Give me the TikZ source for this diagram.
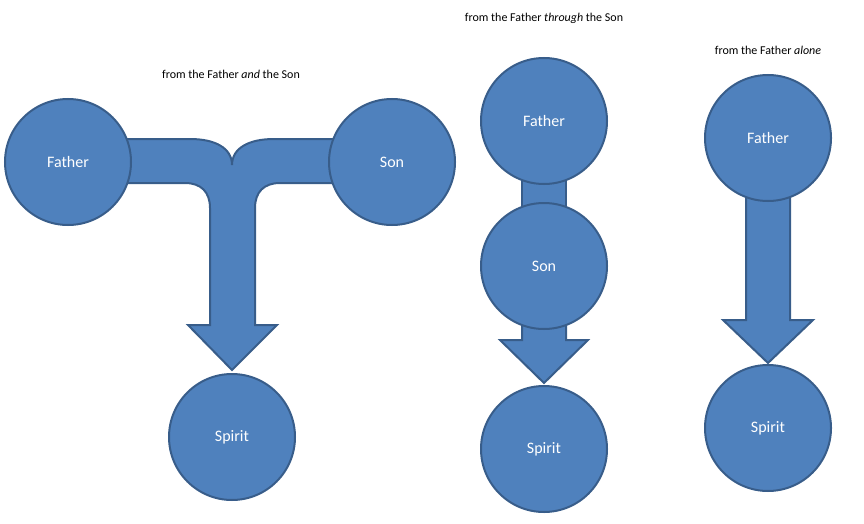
\documentclass[tikz,border=0pt]{standalone}
\usepackage{fontspec}
\setmainfont{Carlito}
\definecolor{fillb}{HTML}{4F81BD}
\definecolor{edgeb}{HTML}{385D8A}
\begin{document}
\begin{tikzpicture}[x=1pt,y=-1pt,
  orb/.style={circle,minimum size=126pt,inner sep=0pt,fill=fillb,draw=edgeb,line width=2pt,text=white,font=\fontsize{16}{19}\selectfont},
  arr/.style={fill=fillb,draw=edgeb,line width=2pt,line join=miter},
  captext/.style={font=\fontsize{12}{14}\selectfont,anchor=center}]
\useasboundingbox (0,0) rectangle (864,524);
% left
\draw[arr] (125,139) -- (190,139) .. controls (215,139) and (232,148) .. (232,165)
  .. controls (232,148) and (249,139) .. (274,139) -- (340,139) -- (340,183) -- (280,183)
  .. controls (264,183) and (255,192) .. (255,208) -- (255,325) -- (277,325) -- (232,370)
  -- (188,325) -- (210,325) -- (210,208) .. controls (210,192) and (201,183) .. (185,183)
  -- (125,183) -- cycle;
\node[orb] (f1) at (68,162) {Father};
\node[orb] (s1) at (392,162) {Son};
\node[orb] (p1) at (232,437) {Spirit};
\node[captext] (t1) at (231,74) {from the Father \textit{and} the Son};
% middle
\draw[arr] (522,180) rectangle (566,210);
\draw[arr] (522,320) -- (566,320) -- (566,340) -- (588,340) -- (544,383) -- (500,340) -- (522,340) -- cycle;
\node[orb] (f2) at (544,121) {Father};
\node[orb] (s2) at (544,266) {Son};
\node[orb] (p2) at (544,449) {Spirit};
\node[captext] (t2) at (544,18) {from the Father \textit{through} the Son};
% right
\draw[arr] (746,195) -- (790,195) -- (790,320) -- (813,320) -- (768,363) -- (723,320) -- (746,320) -- cycle;
\node[orb] (f3) at (768,138) {Father};
\node[orb] (p3) at (768,428) {Spirit};
\node[captext] (t3) at (768,50) {from the Father \textit{alone}};
\end{tikzpicture}
\end{document}
